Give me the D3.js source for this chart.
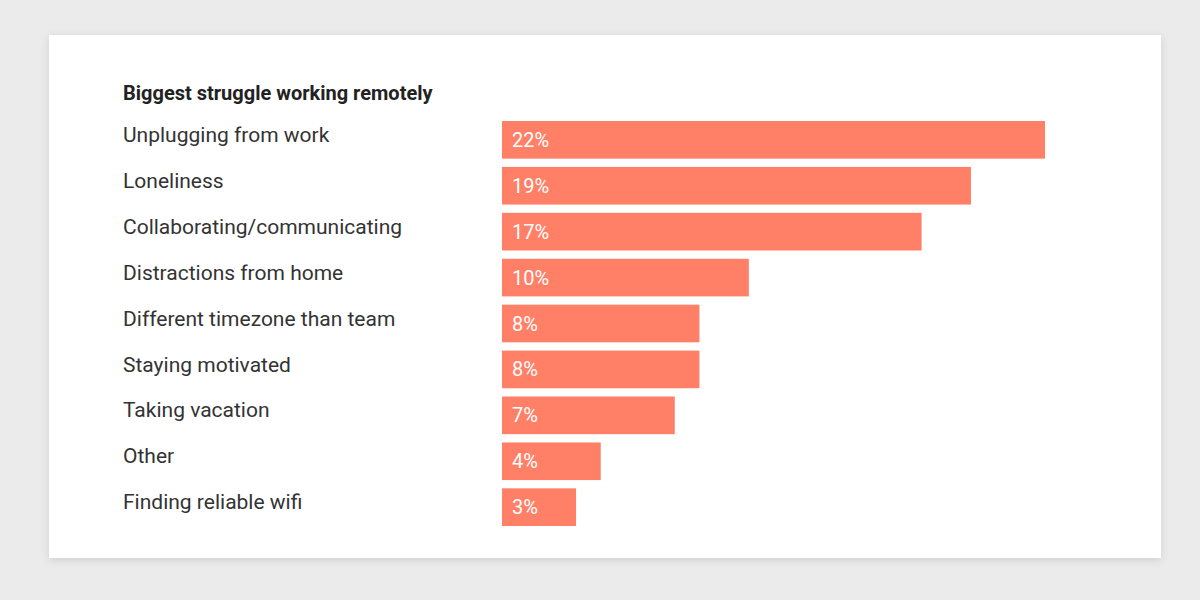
<!DOCTYPE html>
<html>
<head>
<meta charset="utf-8">
<script src="https://cdn.jsdelivr.net/npm/d3@7"></script>
<style>
  body { margin: 0; background: #ebebeb; }
  svg { display: block; }
</style>
</head>
<body>
<svg id="chart" width="1200" height="600"></svg>
<script>
var categories = ["Unplugging from work", "Loneliness", "Collaborating/communicating",
    "Distractions from home", "Different timezone than team", "Staying motivated",
    "Taking vacation", "Other", "Finding reliable wifi"];
var values = [22, 19, 17, 10, 8, 8, 7, 4, 3];

var svg = d3.select("#chart");

var defs = svg.append("defs");
var f = defs.append("filter").attr("id", "shadow").attr("x", "-5%").attr("y", "-5%").attr("width", "110%").attr("height", "115%");
f.append("feDropShadow").attr("dx", 0).attr("dy", 2).attr("stdDeviation", 4).attr("flood-color", "#000").attr("flood-opacity", 0.12);

svg.append("rect")
    .attr("x", 49).attr("y", 35).attr("width", 1112).attr("height", 523)
    .attr("fill", "#fff").attr("filter", "url(#shadow)");

svg.append("text")
    .attr("x", 123).attr("y", 100)
    .attr("font-family", "Roboto").attr("font-weight", "bold").attr("font-size", 20)
    .attr("fill", "#222")
    .text("Biggest struggle working remotely");

var y = d3.scaleBand().domain(categories).range([121, 526]).paddingInner(0.18).paddingOuter(0);
var x = d3.scaleLinear().domain([0, 22]).range([502, 1045]);

var row = svg.selectAll("g.row")
    .data(categories.map(function (c, i) { return { name: c, value: values[i] }; }))
    .enter().append("g").attr("class", "row");

row.append("text")
    .attr("x", 123)
    .attr("y", function (d) { return y(d.name) + y.bandwidth() / 2; })
    .attr("dy", "0.1em")
    .attr("font-family", "Roboto").attr("font-size", 21).attr("fill", "#333")
    .text(function (d) { return d.name; });

row.append("rect")
    .attr("x", x(0))
    .attr("y", function (d) { return y(d.name); })
    .attr("width", function (d) { return x(d.value) - x(0); })
    .attr("height", y.bandwidth())
    .attr("fill", "#ff7f67");

row.append("text")
    .attr("x", x(0) + 10)
    .attr("y", function (d) { return y(d.name) + y.bandwidth() / 2; })
    .attr("dy", "0.35em")
    .attr("font-family", "Roboto").attr("font-size", 20).attr("fill", "#fff")
    .text(function (d) { return d.value + "%"; });
</script>
</body>
</html>
